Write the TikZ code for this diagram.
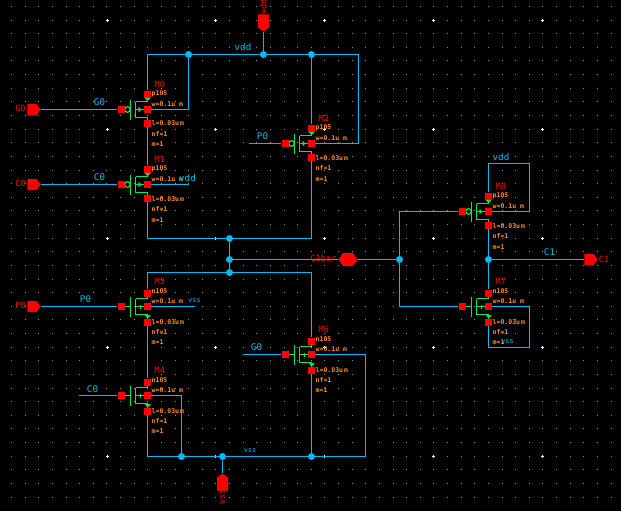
\documentclass[tikz,border=0pt]{standalone}
\usepackage{fontspec}
\setmonofont{DejaVu Sans Mono}
\usetikzlibrary{positioning, arrows.meta, calc, shapes.symbols}

\definecolor{wirecol}{HTML}{00BCFA}
\definecolor{devcol}{HTML}{00EA50}
\definecolor{parcol}{HTML}{FF8C1E}
\definecolor{griddot}{HTML}{8C949C}

\tikzset{
	wire/.style={draw=wirecol, line width=1.2pt},
	dev/.style={draw=devcol, line width=1.2pt},
	junction/.style={circle, fill=wirecol, inner sep=0pt, minimum size=7pt},
	pinsq/.style={rectangle, fill=red, inner sep=0pt, minimum size=7pt},
	iopin/.style={signal, fill=red, inner sep=0pt, signal pointer angle=110},
	netlab/.style={text=wirecol, font=\ttfamily\fontsize{9.2}{9}\selectfont},
	smalllab/.style={text=wirecol, font=\ttfamily\fontsize{6.8}{7}\selectfont},
	redlab/.style={text=red, font=\ttfamily\fontsize{8.6}{8}\selectfont},
	parlab/.style={text=parcol, anchor=west, inner sep=0pt, font=\ttfamily\bfseries\fontsize{6.5}{7}\selectfont},
	pics/pmosdev/.style args={#1/#2}{code={
		\node[redlab, anchor=west, inner sep=0pt] at (7,-25.5) {#1};
		\node[parlab] at (4,-15.5) {p105};
		\node[parlab] at (4,-5.5) {w=0.1u m};
		\node[parlab] at (4,#2) {l=0.03u\kern-3pt\ m};
		\node[parlab] at ($(4,#2)+(0,10.5)$) {nf=1};
		\node[parlab] at ($(4,#2)+(0,21)$) {m=1};
		\draw[dev] (-17,-10) -- (-17,10);
		\draw[dev] (-12,-8) -- (-12,8);
		\draw[dev] (0,-12) -- (0,-8) -- (-12,-8);
		\draw[dev] (0,12) -- (0,8) -- (-12,8);
		\draw[dev] (-12,0) -- (0,0);
		\draw[dev] (-9,-2) -- (-7,0) -- (-9,2);
		\draw[dev] (-18,0) -- (-17,0);
		\draw[dev] (-20,0) circle (2.8);
		\fill[devcol] (-3.5,-12) -- (3.5,-12) -- (0,-8.5) -- cycle;
		\node[pinsq] (g) at (-26.5,0) {};
		\node[pinsq] (c) at (0,0) {};
		\node[pinsq] (s) at (0,-15.5) {};
		\node[pinsq] (d) at (0,14) {};
	}},
	pics/nmosdev/.style args={#1/#2}{code={
		\node[redlab, anchor=west, inner sep=0pt] at (7,-25.5) {#1};
		\node[parlab] at (4,-15.5) {n105};
		\node[parlab] at (4,-5.5) {w=0.1u m};
		\node[parlab] at (4,#2) {l=0.03u\kern-3pt\ m};
		\node[parlab] at ($(4,#2)+(0,10)$) {nf=1};
		\node[parlab] at ($(4,#2)+(0,20)$) {m=1};
		\draw[dev] (-17,-10) -- (-17,10);
		\draw[dev] (-12,-8) -- (-12,8);
		\draw[dev] (0,-11) -- (0,-8) -- (-12,-8);
		\draw[dev] (0,12) -- (0,8) -- (-12,8);
		\draw[dev] (-12,0) -- (0,0);
		\draw[dev] (-7,-2) -- (-7,2);
		\draw[dev] (-23,0) -- (-17,0);
		\fill[devcol] (-3,8) -- (3.5,9) -- (0,12) -- cycle;
		\node[pinsq] (g) at (-26.5,0) {};
		\node[pinsq] (c) at (0,0) {};
		\node[pinsq] (s) at (0,-13.5) {};
		\node[pinsq] (d) at (0,16) {};
	}},
}

\begin{document}
\begin{tikzpicture}[x=1pt, y=-1pt]
	
	\fill[black] (0,0) rectangle (621,511);
	\useasboundingbox (0,0) rectangle (621,511);
	
	% Grid
	\foreach \i in {0,...,44}{
		\foreach \j in {0,...,36}{
			\fill[griddot] ($(11,6)+(\i*13.625,\j*13.625)$) rectangle +(1,1);
		}
	}
	\foreach \i in {107,215,324,433,542}{
		\foreach \j in {20,129,238,347,456}{
			\fill[white] (\i-1,\j) rectangle (\i+2,\j+1);
			\fill[white] (\i,\j-1) rectangle (\i+1,\j+2);
		}
	}
	
	% Devices
	\pic (M0) at (147.5,109.5) {pmosdev={M0/14}};
	\pic (M1) at (147.5,184.5) {pmosdev={M1/14.5}};
	\pic (M2) at (311.5,143.5) {pmosdev={M2/14.5}};
	\pic (M8) at (488.5,211.5) {pmosdev={M8/14.5}};
	\pic (M3) at (147.5,306.5) {nmosdev={M3/15.5}};
	\pic (M4) at (147.5,395.5) {nmosdev={M4/15.5}};
	\pic (M6) at (311.5,354.5) {nmosdev={M6/15.5}};
	\pic (M7) at (488.5,306.5) {nmosdev={M7/15.5}};
	
	% Pins
	\node[iopin, minimum width=13pt, minimum height=11pt, signal to=east] (pinG0) at (32,109.5) {};
	\node[iopin, minimum width=13pt, minimum height=11pt, signal to=east] (pinC0) at (32,184.5) {};
	\node[iopin, minimum width=13pt, minimum height=11pt, signal to=east] (pinP0) at (32,306.5) {};
	\node[iopin, minimum width=13pt, minimum height=11pt, signal to=east] (pinC1) at (589,259.5) {};
	\node[iopin, minimum width=19pt, minimum height=13pt, signal to=east and west] (pinC1bar) at (348,259.5) {};
	\node[iopin, minimum width=11pt, minimum height=13pt, signal to=south] (pinvdd) at (263.5,21) {};
	\node[iopin, minimum width=11pt, minimum height=13pt, signal to=north] (pinvss) at (222.5,484) {};
	
	% Junctions
	\node[junction] (j1) at (188.5,54.5) {};
	\node[junction] (j2) at (263.5,54.5) {};
	\node[junction] (j3) at (311.5,54.5) {};
	\node[junction] (j4) at (229.5,238.5) {};
	\node[junction] (j5) at (229.5,259.5) {};
	\node[junction] (j6) at (229.5,272.5) {};
	\node[junction] (j7) at (399.5,259.5) {};
	\node[junction] (j8) at (488.5,259.5) {};
	\node[junction] (j9) at (181.5,456.5) {};
	\node[junction] (j10) at (222.5,456.5) {};
	\node[junction] (j11) at (311.5,456.5) {};
	
	% Free ends and corners
	\coordinate (tl) at (147.5,54.5);
	\coordinate (tr) at (358.5,54.5);
	\coordinate (ml) at (147.5,238.5);
	\coordinate (mr) at (311.5,238.5);
	\coordinate (nl) at (147.5,272.5);
	\coordinate (nr) at (311.5,272.5);
	\coordinate (bl) at (147.5,456.5);
	\coordinate (br) at (365.5,456.5);
	\coordinate (stub1) at (188.5,184.5);
	\coordinate (stub3) at (195,306.5);
	\coordinate (gateP) at (249,143.5);
	\coordinate (gateC) at (79,395.5);
	\coordinate (gateG) at (243,354.5);
	\coordinate (boxa) at (488.5,163.5);
	\coordinate (boxb) at (529.5,163.5);
	\coordinate (boxc) at (529.5,347.5);
	\coordinate (boxd) at (488.5,347.5);
	
	% Connections
	\draw[wire] (M0s) -- (tl) -- (j1) -- (j2) -- (j3) -- (tr) |- (M2c);
	\draw[wire] (j2) -- (pinvdd);
	\draw[wire] (j3) -- (M2s);
	\draw[wire] (M0c) -| (j1);
	\draw[wire] (M0d) -- (M1s);
	\draw[wire] (pinG0) -- (M0g);
	\draw[wire] (pinC0) -- (M1g);
	\draw[wire] (M1c) -- (stub1);
	\draw[wire] (gateP) -- (M2g);
	\draw[wire] (M1d) -- (ml) -- (j4) -- (mr) -- (M2d);
	\draw[wire] (j4) -- (j5);
	\draw[wire] (j5) -- (j6);
	\draw[wire] (M3s) -- (nl) -- (j6) -- (nr) -- (M6s);
	\draw[wire] (j5) -- (pinC1bar);
	\draw[wire] (pinC1bar) -- (j7);
	\draw[wire] (M8g) -| (j7);
	\draw[wire] (M7g) -| (j7);
	\draw[wire] (M8d) -- (j8);
	\draw[wire] (j8) -- (M7s);
	\draw[wire] (j8) -- (pinC1);
	\draw[wire] (M8s) -- (boxa) -- (boxb) |- (M8c);
	\draw[wire] (M7c) -| (boxc) -- (boxd) -- (M7d);
	\draw[wire] (pinP0) -- (M3g);
	\draw[wire] (M3c) -- (stub3);
	\draw[wire] (M3d) -- (M4s);
	\draw[wire] (gateC) -- (M4g);
	\draw[wire] (gateG) -- (M6g);
	\draw[wire] (M4c) -| (j9);
	\draw[wire] (M4d) -- (bl) -- (j9) -- (j10) -- (j11) -- (br) |- (M6c);
	\draw[wire] (M6d) -- (j11);
	\draw[wire] (j10) -- (pinvss);
	
	% Net names
	\node[netlab] (labG0) at (99.5,102.5) {G0};
	\node[netlab] (labC0) at (99.5,177.5) {C0};
	\node[netlab] (labP0a) at (262.5,136.5) {P0};
	\node[netlab] (labP0b) at (85.5,299.5) {P0};
	\node[netlab] (labC0b) at (92.5,389) {C0};
	\node[netlab] (labG0b) at (256.5,347.5) {G0};
	\node[netlab] (labC1) at (549.5,252) {C1};
	\node[netlab] (labvdda) at (243,47.5) {vdd};
	\node[netlab] (labvddb) at (187.5,178) {vdd};
	\node[netlab] (labvddc) at (501,157) {vdd};
	\node[smalllab] (labvssa) at (250,450.5) {vss};
	\node[smalllab] (labvssb) at (194.5,300.5) {vss};
	\node[smalllab] (labvssc) at (507.5,341.5) {vss};
	
	% Pin names
	\node[redlab] (namG0) at (20.5,108.5) {G0};
	\node[redlab] (namC0) at (20.5,183.5) {C0};
	\node[redlab] (namP0) at (20.5,305.5) {P0};
	\node[redlab] (namC1) at (604,259) {C1};
	\node[redlab] (namC1bar) at (323.5,258.5) {C1bar};
	\node[redlab, rotate=90] (namvdd) at (263.5,7) {vdd};
	\node[redlab, rotate=90] (namvss) at (222.5,497) {vss};
	
\end{tikzpicture}
\end{document}
